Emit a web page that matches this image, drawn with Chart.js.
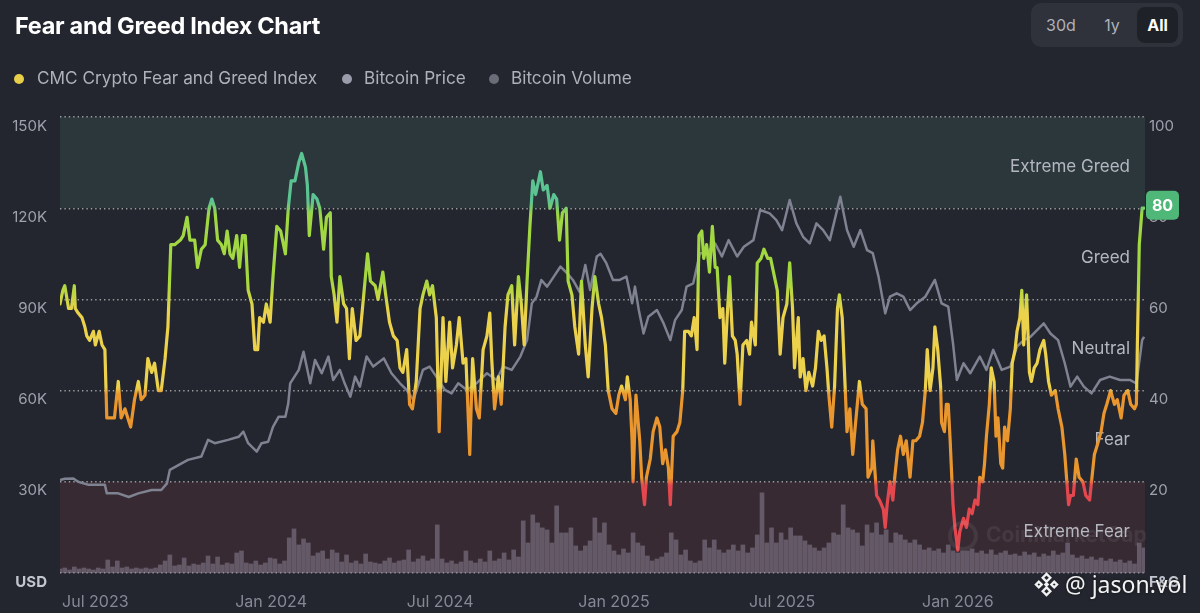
<!DOCTYPE html>
<html>
<head>
<meta charset="utf-8">
<title>Fear and Greed Index Chart</title>
<script src="https://cdn.jsdelivr.net/npm/chart.js@4.4.1/dist/chart.umd.min.js"></script>
<style>
  html, body { margin: 0; padding: 0; background: #23262e; width: 1200px; height: 613px; overflow: hidden; font-family: Inter, "Noto Sans", sans-serif; }
  #wrap { position: relative; width: 1200px; height: 613px; }
  #chart { position: absolute; left: 0; top: 0; }
  .title { position: absolute; left: 15px; top: 11px; color: #fff; font-weight: 700; font-size: 23.5px; letter-spacing: -0.3px; }
  .tabs { position: absolute; left: 1031px; top: 3px; width: 152px; height: 44px; background: #2f323b; border-radius: 10px; }
  .tab { position: absolute; top: 4px; height: 36px; line-height: 36px; color: #aeb1ba; font-size: 16px; text-align: center; }
  .tab.on { background: #1f2128; color: #fff; font-weight: 700; border-radius: 8px; }
  .lg { position: absolute; top: 67px; color: #aeb1ba; font-size: 17.2px; line-height: 22px; white-space: nowrap; }
  .dot { position: absolute; top: 74px; width: 10px; height: 10px; border-radius: 50%; }
  .cmc { position: absolute; left: 948px; top: 521px; color: rgba(255,255,255,0.07); font-size: 21px; font-weight: 700; white-space: nowrap; }
  .cmc span.logo { display: inline-block; width: 22px; height: 22px; border: 4px solid rgba(255,255,255,0.07); border-radius: 50%; vertical-align: middle; margin-right: 8px; }
  .wm { position: absolute; left: 1034px; top: 568px; color: #f2f2f2; font-family: "Noto Sans", "DejaVu Sans", sans-serif; font-size: 23px; white-space: nowrap; text-shadow: 0 0 3px rgba(0,0,0,0.6); }
  .wm svg { vertical-align: -4px; margin-right: 6px; }
</style>
</head>
<body>
<div id="wrap">
  <canvas id="chart" width="1200" height="613"></canvas>
  <div class="title">Fear and Greed Index Chart</div>
  <div class="tabs">
    <div class="tab" style="left:12px;width:36px;">30d</div>
    <div class="tab" style="left:66px;width:30px;">1y</div>
    <div class="tab on" style="left:106px;width:41px;">All</div>
  </div>
  <div class="dot" style="left:14px;background:#e8cf4a;"></div>
  <div class="lg" style="left:37px;">CMC Crypto Fear and Greed Index</div>
  <div class="dot" style="left:342px;background:#9a9cab;"></div>
  <div class="lg" style="left:364px;">Bitcoin Price</div>
  <div class="dot" style="left:489px;background:#6a6d78;"></div>
  <div class="lg" style="left:511px;">Bitcoin Volume</div>
  <div class="cmc"><span class="logo"></span>CoinMarketCap</div>
  <div class="wm"><svg width="25" height="25" viewBox="0 0 26 26"><g fill="none" stroke="#f2f2f2" stroke-width="2.4"><path d="M13 2 L17 6 L13 10 L9 6 Z"/><path d="M13 16 L17 20 L13 24 L9 20 Z"/><path d="M2 13 L5 10 L8 13 L5 16 Z"/><path d="M18 13 L21 10 L24 13 L21 16 Z"/></g><rect x="11" y="11" width="4" height="4" fill="#f2f2f2" transform="rotate(45 13 13)"/></svg>@ jason.vol</div>
</div>

<script>
// ---- data (x values are days counted from the first day shown) ----
const tickDays = [37, 221, 398, 580, 756, 940];
const tickLabels = ['Jul 2023', 'Jan 2024', 'Jul 2024', 'Jan 2025', 'Jul 2025', 'Jan 2026'];
const lastDay = 1136;

// CMC Crypto Fear and Greed Index
const fngDays = [
  0,3,5,9,12,15,16,19,23,26,28,31,35,37,41,44,47,49,52,57,61,64,68,71,74,78,82,85,89,92,96,99,103,106,110,113,116,120,126,129,
  133,136,141,144,148,152,156,159,162,165,169,172,175,178,181,185,188,191,194,197,201,204,207,209,213,216,220,223,227,231,236,239,242,246,250,253,257,259,261,265,
  269,272,276,279,283,284,287,290,293,297,300,303,306,310,314,318,322,325,330,333,338,341,345,349,353,356,359,363,366,369,373,377,380,384,387,390,394,397,401,404,
  408,411,415,418,422,425,429,432,436,439,443,447,450,452,455,459,462,466,469,473,476,480,483,486,489,492,495,498,503,506,510,513,517,520,523,526,530,532,536,539,
  543,546,550,553,557,560,564,567,571,574,578,582,585,588,592,594,597,599,600,603,607,609,612,614,618,621,625,628,631,634,637,639,642,646,649,652,654,658,661,664,
  667,669,672,674,677,680,683,686,688,691,694,696,699,701,704,707,709,712,715,719,722,724,728,730,734,737,741,744,748,751,754,757,761,764,767,769,773,775,778,781,
  784,788,791,794,797,800,803,805,808,811,814,816,819,822,824,827,830,833,837,840,844,846,850,851,855,858,862,864,866,869,872,874,877,880,883,886,890,893,896,900,
  903,906,908,911,914,916,919,922,923,926,928,930,932,935,937,940,942,946,949,952,955,958,961,963,966,968,970,973,975,978,980,982,985,987,989,992,995,997,1000,1002,
  1005,1007,1009,1012,1015,1017,1020,1023,1026,1030,1032,1035,1038,1042,1045,1049,1052,1056,1058,1061,1064,1067,1071,1074,1078,1080,1083,1086,1090,1093,1096,1100,1104,1107,1111,1114,1118,1121,1125,1127,
  1128,1130,1133,1135
];
const fngVals = [
  59,62,63,58,58,63,58,57,56,54,52,51,53,50,53,50,49,34,34,34,42,34,36,34,32,38,42,38,39,47,44,46,40,40,47,54,72,72,73,74,
  78,73,73,67,71,72,80,82,80,73,72,70,75,70,69,74,67,74,74,62,59,49,49,56,55,59,55,65,76,75,70,80,86,86,90,92,89,85,74,83,
  82,80,71,78,79,65,61,55,65,59,58,47,58,51,52,61,70,64,63,60,66,61,55,52,51,45,44,49,37,36,42,58,61,64,61,63,56,31,56,42,
  55,45,50,56,46,47,26,47,36,34,49,52,57,47,36,43,37,54,61,63,50,65,59,50,64,76,86,83,88,84,85,80,83,82,73,79,80,64,61,54,
  48,64,50,43,58,65,59,56,50,40,36,35,39,41,38,43,38,29,20,39,29,21,15,21,25,31,34,32,24,27,23,15,30,31,33,40,53,53,52,56,
  49,74,75,69,72,66,76,67,67,56,58,46,58,65,52,51,48,37,50,51,48,55,50,68,69,71,69,69,65,62,48,56,59,68,58,45,56,43,47,40,
  44,41,45,53,51,52,45,39,32,41,58,61,56,41,31,36,26,33,42,37,36,21,23,29,17,16,14,10,15,20,16,21,27,30,26,29,21,29,29,30,
  33,40,49,40,45,54,49,41,33,31,37,37,29,15,10,5,9,12,10,14,13,16,15,21,20,24,30,37,45,42,30,34,24,23,32,29,36,46,49,53,
  56,62,50,61,44,42,45,46,49,51,48,42,39,40,36,32,26,15,17,17,25,21,20,17,16,20,26,28,31,35,37,40,37,38,34,39,40,37,36,37,
  50,72,80,80
];

// Bitcoin Price, thousands of USD
const priceDays = [
  0,5,14,19,30,47,49,61,72,82,96,106,112,115,124,134,148,155,162,176,187,192,197,206,211,218,223,229,236,239,241,250,255,262,267,274,281,286,293,298,
  304,309,314,321,328,339,347,356,363,370,380,387,394,403,410,417,426,436,447,457,464,473,482,489,494,499,504,510,517,524,531,537,544,550,555,562,566,572,579,586,
  593,599,602,606,611,616,625,632,639,644,651,656,663,670,677,686,693,700,709,716,726,733,743,750,756,764,771,778,785,792,799,806,817,824,831,838,845,851,857,864,
  869,876,883,890,897,906,916,923,930,935,939,946,953,963,970,977,986,995,1002,1009,1016,1023,1030,1037,1045,1052,1058,1065,1072,1080,1089,1099,1110,1120,1127,1133,1135
];
const priceVals = [
  30.6,31,31.1,30,29,29,26.2,26.2,25,26.2,27.3,27.3,29.5,33.9,35.5,37.2,38.3,43.8,42.7,43.8,44.8,46.5,42.7,39.9,42.7,43.2,48.1,51.4,51.4,55.8,62.4,66.8,72.8,62.4,70.1,65.7,71.2,63.5,66.8,62.4,
  58,64.6,61.3,71.2,67.9,70.6,65.7,62.4,60.2,56.9,66.8,67.9,64.6,60.2,59.1,62.4,60.2,62.4,65.7,63.5,67.9,66.8,71.2,76.6,88.7,90.9,96.4,94.2,97.5,100.8,98.6,96.4,92.5,101.3,93.1,104.1,105,101.9,96.4,96.4,
  97.5,88.7,94.2,86.5,78.8,84.3,86.5,82.1,76.6,83.2,86.5,94.2,95.3,105.2,105.2,108.4,104.1,109.5,104.1,107.3,109.5,119.4,118.3,116.1,112.8,122.7,115,110.6,108.4,115,112.8,109.5,123.8,112.8,107.3,112.8,106.2,105.2,97.5,85.4,
  90.9,92,90.9,86.5,88.7,90.9,96.4,88.7,87.6,75.5,63.5,69,65.7,71.2,66.8,73.4,66.8,67.9,74.5,76.6,77.7,79.9,82.1,78.8,76.6,69,61.3,64.6,61.3,59.1,63.5,64.6,63.5,63.5,62.4,76.6,77.7
];

// Bitcoin Volume, billions of USD, one bar every 5 days from day 0
const volStep = 5;
const volVals = [
  4,5,3,6,4,5,4,3,5,4, 13,6,12,5,6,4,5,4,5,4, 5,8,12,18,7,8,15,7,9,8, 10,17,9,16,8,10,9,20,22,10,
  9,12,8,10,15,14,9,12,35,44, 28,34,30,17,20,22,14,23,20,11, 18,10,12,9,19,11,10,9,12,15, 10,12,13,23,11,14,17,12,14,48,
  14,10,12,9,11,22,12,10,14,11, 22,12,14,20,13,23,16,52,30,58, 50,45,43,30,67,40,40,45,27,22, 27,32,55,40,50,28,22,18,24,20,
  40,30,27,17,12,14,16,20,40,33, 18,23,12,10,12,33,25,33,23,20, 23,28,22,28,20,25,38,80,30,45, 30,40,33,45,37,37,32,28,25,22,
  25,30,40,38,68,45,43,40,27,48, 40,50,38,43,30,40,38,33,30,33, 28,23,25,22,24,20,28,22,20,22, 22,24,20,22,19,23,18,20,22,18,
  19,17,21,18,20,16,19,17,22,18, 20,30,18,15,17,14,16,13,15,12, 14,11,13,10,12,9,30,25
];

// sentiment zones on the index axis
const zoneLabels = [['Extreme Greed', 90], ['Greed', 70], ['Neutral', 50], ['Fear', 30], ['Extreme Fear', 10]];

// ---- styles ----
const labelColor = '#9ea2ac';
const zoneStops = [
  [0, '#e4484e'], [19.2, '#e4484e'], [20.8, '#e9962f'], [39.2, '#e9962f'], [40.8, '#ecd24c'],
  [57, '#ecd24c'], [64, '#a5d83f'], [78.5, '#9fd744'], [81.5, '#5cc392'], [100, '#5cc392']
];

function fngGradient(c) {
  const chart = c.chart;
  if (!chart.chartArea) return '#ecd24c';
  const s = chart.scales.yFng;
  const g = chart.ctx.createLinearGradient(0, s.getPixelForValue(0), 0, s.getPixelForValue(100));
  zoneStops.forEach(([v, col]) => g.addColorStop(v / 100, col));
  return g;
}

const zonePlugin = {
  id: 'zones',
  beforeDraw(chart) {
    const { ctx, chartArea: a } = chart;
    const s = chart.scales.yFng;
    ctx.save();
    ctx.fillStyle = '#2b373b';
    ctx.fillRect(a.left, s.getPixelForValue(100), a.width, s.getPixelForValue(80) - s.getPixelForValue(100));
    ctx.fillStyle = '#372a33';
    ctx.fillRect(a.left, s.getPixelForValue(20), a.width, s.getPixelForValue(0) - s.getPixelForValue(20));
    ctx.restore();
  },
  beforeDatasetsDraw(chart) {
    const { ctx, chartArea: a } = chart;
    const s = chart.scales.yFng;
    ctx.save();
    ctx.fillStyle = '#b4b7c0';
    ctx.font = '17px Inter';
    ctx.textAlign = 'right';
    ctx.textBaseline = 'middle';
    zoneLabels.forEach(([t, v]) => ctx.fillText(t, a.right - 15, s.getPixelForValue(v) + 4));
    ctx.restore();
  },
  afterDraw(chart) {
    // current value badge on the right axis
    const { ctx, chartArea: a } = chart;
    const s = chart.scales.yFng;
    const last = fngVals[fngVals.length - 1];
    const y = s.getPixelForValue(last) - 3;
    const x = a.right + 1, w = 33, h = 29;
    ctx.save();
    ctx.fillStyle = '#4fb878';
    ctx.beginPath();
    ctx.roundRect(x, y - h / 2, w, h, 5);
    ctx.fill();
    ctx.fillStyle = '#fff';
    ctx.font = 'bold 16px Inter';
    ctx.textAlign = 'center';
    ctx.textBaseline = 'middle';
    ctx.fillText(String(last), x + w / 2, y + 1);
    ctx.restore();
  }
};

const tickFont = (c) => ({ family: 'Inter', size: 15, weight: c.tick && c.tick.value === 0 ? 'bold' : 'normal' });
const tickColor = (c) => (c.tick && c.tick.value === 0 ? '#c3c6ce' : labelColor);

new Chart(document.getElementById('chart'), {
  type: 'line',
  data: {
    datasets: [
      {
        label: 'CMC Crypto Fear and Greed Index',
        data: fngDays.map((d, i) => ({ x: d, y: fngVals[i] })),
        yAxisID: 'yFng',
        borderColor: fngGradient,
        borderWidth: 3.2,
        borderJoinStyle: 'round',
        borderCapStyle: 'round',
        pointRadius: 0,
        tension: 0
      },
      {
        label: 'Bitcoin Price',
        data: priceDays.map((d, i) => ({ x: d, y: priceVals[i] })),
        yAxisID: 'yPrice',
        borderColor: '#7f8291',
        borderWidth: 2.5,
        borderJoinStyle: 'round',
        pointRadius: 0,
        tension: 0
      },
      {
        type: 'bar',
        label: 'Bitcoin Volume',
        data: volVals.map((v, i) => ({ x: i * volStep, y: v })),
        yAxisID: 'yVol',
        backgroundColor: 'rgba(138,128,146,0.55)',
        barThickness: 4
      }
    ]
  },
  options: {
    responsive: false,
    animation: false,
    layout: { padding: { top: 117, left: 0, right: 0, bottom: 0 } },
    plugins: { legend: { display: false }, tooltip: { enabled: false } },
    scales: {
      x: {
        type: 'linear',
        min: 0,
        max: lastDay,
        offset: false,
        grid: { display: false },
        border: { display: false },
        afterBuildTicks: (s) => { s.ticks = tickDays.map((v) => ({ value: v })); },
        afterFit: (s) => { s.height = 40; },
        ticks: {
          autoSkip: false,
          maxRotation: 0,
          padding: 12,
          color: '#858995',
          font: { family: 'Inter', size: 16 },
          callback: (v) => tickLabels[tickDays.indexOf(v)] || ''
        }
      },
      yPrice: {
        position: 'left',
        min: 0,
        max: 150,
        grid: { display: false },
        border: { display: false },
        afterFit: (s) => { s.width = 60; },
        ticks: {
          stepSize: 30,
          padding: 5,
          labelOffset: 9,
          color: tickColor,
          font: tickFont,
          callback: (v) => (v === 0 ? 'USD' : v + 'K')
        }
      },
      yFng: {
        position: 'right',
        min: 0,
        max: 100,
        grid: { color: 'rgba(255,255,255,0.55)', lineWidth: 1.4, drawTicks: false },
        border: { display: false, dash: [1.4, 3] },
        afterFit: (s) => { s.width = 55; },
        ticks: {
          stepSize: 20,
          padding: 4,
          labelOffset: 9,
          color: tickColor,
          font: tickFont,
          callback: (v) => (v === 0 ? 'F&G' : String(v))
        }
      },
      yVol: {
        display: false,
        min: 0,
        max: 455
      }
    }
  },
  plugins: [zonePlugin]
});
</script>
</body>
</html>
